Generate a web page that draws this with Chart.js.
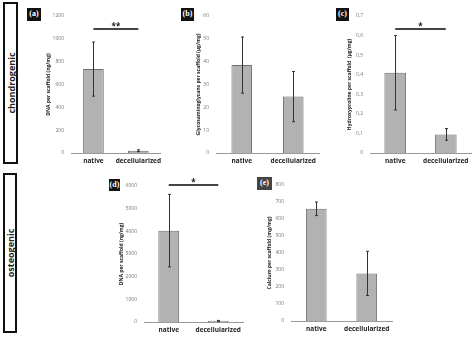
<!DOCTYPE html>
<html>
<head>
<meta charset="utf-8">
<script src="https://cdn.jsdelivr.net/npm/chart.js@4.4.1/dist/chart.umd.min.js"></script>
<style>
  body { margin: 0; background: #fff; width: 474px; height: 337px; overflow: hidden; position: relative; font-family: "Open Sans", sans-serif; }
  canvas { position: absolute; }
  .side { position: absolute; border: 2px solid #111; box-sizing: border-box; }
  .side span { position: absolute; left: 50%; top: 50%; transform: translate(-50%, -50%) rotate(-90deg); font-weight: bold; font-size: 9px; color: #222; white-space: nowrap; }
  .tag { position: absolute; background: #111; color: #fff; font-weight: bold; font-size: 8px; line-height: 12px; text-align: center; font-family: "Liberation Serif", serif; }
</style>
</head>
<body>
<div class="side" style="left:3px;top:2px;width:15px;height:162px"><span>chondrogenic</span></div>
<div class="side" style="left:3px;top:173px;width:14px;height:160px"><span>osteogenic</span></div>
<div class="tag" style="left:27px;top:8px;width:14px;height:13px">(a)</div>
<div class="tag" style="left:181px;top:8px;width:13px;height:13px">(b)</div>
<div class="tag" style="left:336px;top:8px;width:13px;height:13px">(c)</div>
<div class="tag" style="left:109px;top:179px;width:11px;height:12px">(d)</div>
<div class="tag" style="left:257px;top:177px;width:15px;height:13px;background:#444">(e)</div>

<canvas id="pa"></canvas>
<canvas id="pb"></canvas>
<canvas id="pc"></canvas>
<canvas id="pd"></canvas>
<canvas id="pe"></canvas>

<script>
// ========== DATA ========== //
const categories = ["native", "decellularized"];

const dnaChondro = [735, 20];
const dnaChondroErr = [237, 8];

const gagChondro = [38.5, 24.7];
const gagChondroErr = [12.3, 11];

const hypChondro = [0.41, 0.095];
const hypChondroErr = [0.19, 0.03];

const dnaOsteo = [4030, 50];
const dnaOsteoErr = [1600, 20];

const calOsteo = [660, 280];
const calOsteoErr = [40, 130];

// ========== PLUGIN: error bars + significance ========== //
const errBarsPlugin = {
  id: "errbars",
  afterDatasetsDraw(chart, args, opts) {
    const ctx = chart.ctx;
    const y = chart.scales.y;
    const meta = chart.getDatasetMeta(0);
    const vals = chart.data.datasets[0].data;
    ctx.save();
    ctx.strokeStyle = "#333";
    ctx.lineWidth = 1;
    meta.data.forEach((bar, i) => {
      const e = opts.err[i];
      const top = y.getPixelForValue(vals[i] + e);
      const bot = y.getPixelForValue(Math.max(vals[i] - e, 0));
      const x = Math.round(bar.x) + 0.5;
      ctx.beginPath();
      ctx.moveTo(x, top); ctx.lineTo(x, bot);
      ctx.moveTo(x - 1.5, top); ctx.lineTo(x + 1.5, top);
      ctx.moveTo(x - 1.5, bot); ctx.lineTo(x + 1.5, bot);
      ctx.stroke();
    });
    if (opts.sig) {
      const x0 = meta.data[0].x, x1 = meta.data[1].x;
      const ly = y.getPixelForValue(opts.sig.level);
      ctx.strokeStyle = "#444";
      ctx.lineWidth = 2;
      ctx.beginPath();
      ctx.moveTo(x0, ly); ctx.lineTo(x1, ly);
      ctx.stroke();
      ctx.fillStyle = "#222";
      ctx.font = "bold 8px 'Open Sans'";
      ctx.textAlign = "center";
      ctx.textBaseline = "bottom";
      ctx.fillText(opts.sig.text, (x0 + x1) / 2, ly + 2);
    }
    ctx.restore();
  }
};

// ========== CHART BUILDER ========== //
function makePanel(id, cfg) {
  const cLeft = cfg.titleX - 3;
  const cTop = cfg.area.t - 14;
  const cRight = cfg.area.r + 4;
  const cBottom = cfg.area.b + 17;
  const canvas = document.getElementById(id);
  canvas.style.left = cLeft + "px";
  canvas.style.top = cTop + "px";
  canvas.width = cRight - cLeft;
  canvas.height = cBottom - cTop;
  canvas.style.width = canvas.width + "px";
  canvas.style.height = canvas.height + "px";

  new Chart(canvas.getContext("2d"), {
    type: "bar",
    data: {
      labels: categories,
      datasets: [{
        data: cfg.values,
        backgroundColor: "#b2b2b2",
        borderColor: "#6e6e6e",
        borderWidth: 1,
        categoryPercentage: 1,
        barPercentage: cfg.barPct
      }]
    },
    options: {
      responsive: false,
      animation: false,
      layout: { padding: { top: 14, right: 4, left: 0, bottom: 0 } },
      plugins: {
        legend: { display: false },
        tooltip: { enabled: false },
        errbars: { err: cfg.err, sig: cfg.sig }
      },
      scales: {
        x: {
          grid: { display: false, drawTicks: false },
          border: { display: true, color: "#9a9a9a", width: 1 },
          ticks: { color: "#222", font: { size: 6.5, weight: "bold", family: "Open Sans" }, padding: 4, maxRotation: 0, autoSkip: false },
          afterFit(scale) { scale.height = 17; }
        },
        y: {
          min: 0,
          max: cfg.max,
          grid: { display: false, drawTicks: false },
          border: { display: false },
          ticks: {
            stepSize: cfg.step,
            color: "#777",
            padding: 7,
            font: { size: 5, family: "Open Sans" },
            callback: cfg.fmt || (v => v)
          },
          title: {
            display: true,
            text: cfg.title,
            color: "#222",
            padding: 0,
            font: { size: 5, weight: "bold", family: "Open Sans" }
          },
          afterFit(scale) { scale.width = cfg.area.l - cLeft; }
        }
      }
    },
    plugins: [errBarsPlugin]
  });
}

// ========== PANELS ========== //
makePanel("pa", {
  values: dnaChondro, err: dnaChondroErr, max: 1200, step: 200,
  title: "DNA per scaffold (ng/mg)", titleX: 49,
  area: { l: 71, r: 162, t: 16, b: 153 }, barPct: 0.46,
  sig: { level: 1086, text: "**" }
});

makePanel("pb", {
  values: gagChondro, err: gagChondroErr, max: 60, step: 10,
  title: "Glycosaminoglycans per scaffold (µg/mg)", titleX: 199,
  area: { l: 216, r: 319, t: 16, b: 153 }, barPct: 0.4
});

makePanel("pc", {
  values: hypChondro, err: hypChondroErr, max: 0.7, step: 0.1,
  title: "Hydroxyproline per scaffold  (µg/mg)", titleX: 350,
  area: { l: 370, r: 471, t: 16, b: 153 }, barPct: 0.43,
  fmt: v => v === 0 ? "0" : v.toFixed(1).replace(".", ","),
  sig: { level: 0.634, text: "*" }
});

makePanel("pd", {
  values: dnaOsteo, err: dnaOsteoErr, max: 6000, step: 1000,
  title: "DNA per scaffold (ng/mg)", titleX: 122,
  area: { l: 144, r: 243, t: 186, b: 322 }, barPct: 0.42,
  sig: { level: 6040, text: "*" }
});

makePanel("pe", {
  values: calOsteo, err: calOsteoErr, max: 800, step: 100,
  title: "Calcium per scaffold (mg/mg)", titleX: 270,
  area: { l: 291, r: 392, t: 185, b: 321 }, barPct: 0.41
});
</script>
</body>
</html>
